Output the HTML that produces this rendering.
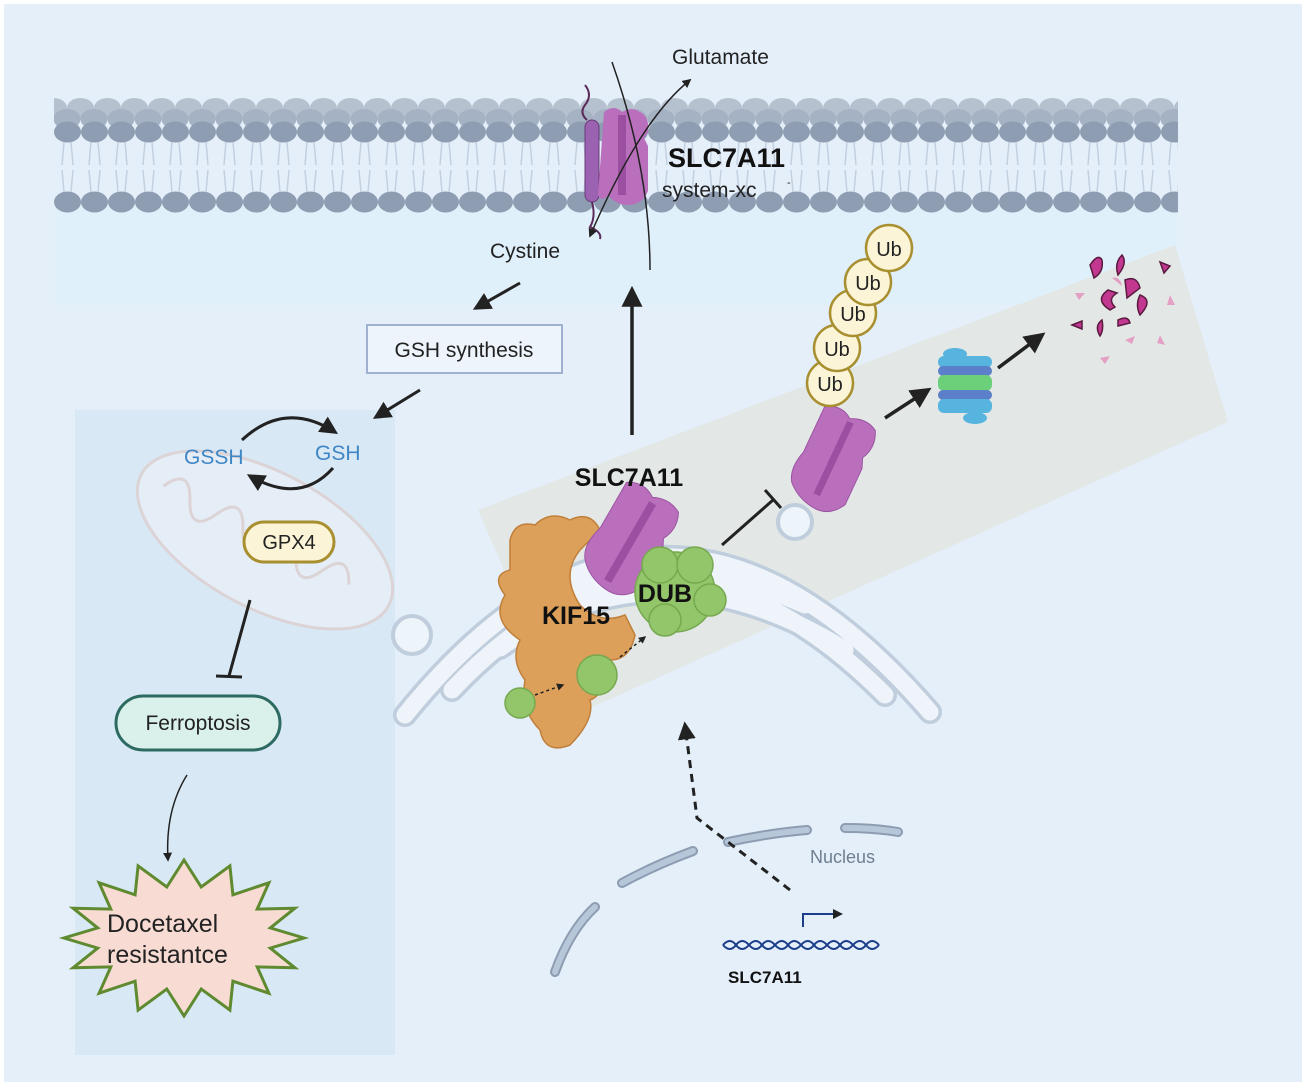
<!DOCTYPE html>
<html><head><meta charset="utf-8"><style>
html,body{margin:0;padding:0;background:#fff}
svg{display:block}
text{font-family:"Liberation Sans",sans-serif}
</style></head><body>
<svg width="1308" height="1088" viewBox="0 0 1308 1088" xmlns="http://www.w3.org/2000/svg">
<defs>
<marker id="ah" viewBox="0 0 10 10" refX="8" refY="5" markerWidth="6" markerHeight="6" orient="auto-start-reverse"><path d="M0,0 L10,5 L0,10 z" fill="#222"/></marker>
<marker id="ahs" viewBox="0 0 10 10" refX="8" refY="5" markerWidth="5" markerHeight="5" orient="auto"><path d="M0,0 L10,5 L0,10 z" fill="#222"/></marker>
<pattern id="heads" x="54" y="0" width="27" height="1088" patternUnits="userSpaceOnUse">
<ellipse cx="13.5" cy="132" rx="13.5" ry="10.5" fill="#8e9db2"/>
<ellipse cx="13.5" cy="202" rx="13.5" ry="10.5" fill="#8e9db2"/>
<path d="M10,142 L8,165 M17,142 L19,165 M10,192 L8,170 M17,192 L19,170" stroke="#c3d0e0" stroke-width="1.5" fill="none"/>
</pattern>
<pattern id="heads2" x="40" y="0" width="27" height="1088" patternUnits="userSpaceOnUse">
<ellipse cx="13.5" cy="108" rx="13.5" ry="10" fill="#b6c1cf"/>
<ellipse cx="0" cy="119" rx="13.5" ry="10" fill="#a5b2c3"/>
<ellipse cx="27" cy="119" rx="13.5" ry="10" fill="#a5b2c3"/>
</pattern>
</defs>
<rect width="1308" height="1088" fill="#fff"/>
<rect x="4" y="4" width="1298" height="1078" fill="#e4effa"/>
<rect x="55" y="205" width="1122" height="100" fill="#e0f0fb"/>
<rect x="75" y="410" width="320" height="645" fill="#d8e9f5"/>
<polygon points="478,510 1175,245 1228,422 568,718" fill="#e3e8e6"/>
<g fill="none" stroke-linecap="round">
<g stroke="#bfcddc" stroke-width="24">
<path d="M405,715 Q660,400 930,712"/>
<path d="M452,690 Q660,470 885,695"/>
<path d="M500,648 Q660,535 845,650"/>
<path d="M545,605 Q670,545 805,605"/>
</g>
<g stroke="#eef4fa" stroke-width="17">
<path d="M405,715 Q660,400 930,712"/>
<path d="M452,690 Q660,470 885,695"/>
<path d="M500,648 Q660,535 845,650"/>
<path d="M545,605 Q670,545 805,605"/>
</g>
<circle cx="412" cy="635" r="19" stroke="#bfcddc" stroke-width="4" fill="#edf4fa"/>
<circle cx="795" cy="522" r="17" stroke="#bfcddc" stroke-width="4" fill="#edf4fa"/>
</g>
<g transform="rotate(28 265 540)">
<ellipse cx="265" cy="540" rx="140" ry="68" fill="#e5eef6" stroke="#dcd3d6" stroke-width="3"/>
<path d="M150,540 q15,-30 30,0 q15,30 30,0 q15,-30 30,0 q15,30 30,0 q15,-30 30,0 q15,30 30,0 q15,-30 30,0" fill="none" stroke="#dcd3d6" stroke-width="3"/>
</g>
<rect x="54" y="98" width="1124" height="30" fill="url(#heads2)"/>
<rect x="54" y="100" width="1124" height="115" fill="url(#heads)"/>
<rect x="585" y="120" width="14" height="82" rx="7" fill="#9a62b0" stroke="#6a3a7a"/>
<path d="M604,112 q10,-8 18,0 q10,-6 18,0 q10,5 8,20 l-4,6 l4,8 v45 q-6,14 -20,14 q-12,0 -20,-10 q-6,8 -10,0 z" fill="#b96fbc"/>
<path d="M622,115 v80" stroke="#9a4fa0" stroke-width="8"/>
<path d="M585,85 q8,10 0,20 q-6,8 2,15 M592,202 q4,15 -2,25 q12,5 10,12" fill="none" stroke="#5a2a5a" stroke-width="2"/>
<path d="M612,62 Q650,170 650,270" fill="none" stroke="#222" stroke-width="1.5"/>
<path d="M590,236 Q640,120 690,80" fill="none" stroke="#222" stroke-width="1.5" marker-end="url(#ah)" marker-start="url(#ah)"/>
<text x="672" y="64" font-size="21" fill="#222">Glutamate</text>
<text x="668" y="167" font-size="27" font-weight="bold" fill="#111">SLC7A11</text>
<text x="662" y="197" font-size="21" fill="#222">system-xc</text>
<text x="787" y="186" font-size="11" fill="#222">-</text>
<text x="490" y="258" font-size="21" fill="#222">Cystine</text>
<line x1="520" y1="283" x2="476" y2="308" stroke="#222" stroke-width="3" marker-end="url(#ah)"/>
<rect x="367" y="325" width="195" height="48" fill="#eef4fb" stroke="#9fb0d0" stroke-width="2"/>
<text x="464" y="357" font-size="21" fill="#222" text-anchor="middle">GSH synthesis</text>
<line x1="420" y1="390" x2="376" y2="417" stroke="#222" stroke-width="3" marker-end="url(#ah)"/>
<line x1="632" y1="435" x2="632" y2="290" stroke="#222" stroke-width="3.5" marker-end="url(#ah)"/>
<text x="184" y="464" font-size="21" fill="#3f86c6">GSSH</text>
<text x="315" y="460" font-size="21" fill="#3f86c6">GSH</text>
<path d="M242,440 Q285,400 335,432" fill="none" stroke="#222" stroke-width="3" marker-end="url(#ah)"/>
<path d="M333,468 Q300,505 250,476" fill="none" stroke="#222" stroke-width="3" marker-end="url(#ah)"/>
<rect x="244" y="522" width="90" height="40" rx="20" fill="#fbf4d6" stroke="#a88f30" stroke-width="3"/>
<text x="289" y="549" font-size="20" fill="#222" text-anchor="middle">GPX4</text>
<line x1="250" y1="600" x2="229" y2="676" stroke="#222" stroke-width="3"/>
<line x1="216" y1="676" x2="242" y2="677" stroke="#222" stroke-width="3"/>
<rect x="116" y="696" width="164" height="54" rx="27" fill="#daf0ea" stroke="#2d6b62" stroke-width="3"/>
<text x="198" y="730" font-size="21" fill="#222" text-anchor="middle">Ferroptosis</text>
<path d="M187,775 Q165,810 168,860" fill="none" stroke="#222" stroke-width="1.5" marker-end="url(#ah)"/>
<polygon id="star" fill="#f8dcd4" stroke="#5f8a30" stroke-width="3" points=""/>
<text x="107" y="932" font-size="25" fill="#222">Docetaxel</text>
<text x="107" y="963" font-size="25" fill="#222">resistantce</text>
<path d="M510,540 q5,-20 25,-15 q15,-15 35,-5 q20,-10 30,10 l-20,20 q-20,25 0,55 q20,20 45,10 l10,20 q-5,25 -25,25 q-5,35 -20,40 q5,20 -20,45 q-25,10 -30,-15 q-20,-20 -15,-50 q-15,-20 -5,-40 q-30,-20 -15,-45 q-15,-20 5,-25 z" fill="#dca05a" stroke="#c07f3a" stroke-width="1.5"/>
<g transform="rotate(30 625 545)">
<path d="M595,490 q15,-10 30,0 q15,-8 30,0 q8,15 0,30 l5,10 v45 q-10,20 -30,18 q-20,-2 -32,-15 q-10,-12 -3,-35 z" fill="#b96fbc" stroke="#9b55a2"/>
<path d="M628,495 v90" stroke="#9a4fa0" stroke-width="8"/>
</g>
<g fill="#93c56a" stroke="#76a84f" stroke-width="1.5">
<circle cx="675" cy="592" r="40"/>
<circle cx="660" cy="565" r="18"/><circle cx="695" cy="565" r="18"/><circle cx="710" cy="600" r="16"/><circle cx="665" cy="620" r="16"/>
<circle cx="597" cy="675" r="20"/>
<circle cx="520" cy="703" r="15"/>
</g>
<text x="576" y="624" font-size="25" font-weight="bold" fill="#111" text-anchor="middle">KIF15</text>
<text x="665" y="602" font-size="25" font-weight="bold" fill="#111" text-anchor="middle">DUB</text>
<text x="629" y="486" font-size="25" font-weight="bold" fill="#111" text-anchor="middle">SLC7A11</text>
<line x1="535" y1="695" x2="563" y2="685" stroke="#222" stroke-width="1.5" stroke-dasharray="3,3" marker-end="url(#ahs)"/>
<line x1="620" y1="657" x2="645" y2="637" stroke="#222" stroke-width="1.5" stroke-dasharray="3,3" marker-end="url(#ahs)"/>
<line x1="722" y1="545" x2="773" y2="500" stroke="#222" stroke-width="3"/>
<line x1="765" y1="490" x2="781" y2="508" stroke="#222" stroke-width="3"/>
<g transform="rotate(25 833 455)">
<path d="M805,415 q15,-10 28,0 q15,-8 28,0 q8,15 0,30 l4,10 v40 q-10,18 -28,16 q-18,-2 -30,-14 q-8,-12 -2,-32 z" fill="#b96fbc" stroke="#9b55a2"/>
<path d="M835,418 v80" stroke="#9a4fa0" stroke-width="7"/>
</g>
<g fill="#fbf4d6" stroke="#a88f30" stroke-width="2.5">
<circle cx="830" cy="383" r="23"/><circle cx="837" cy="348" r="23"/><circle cx="853" cy="313" r="23"/><circle cx="868" cy="282" r="23"/><circle cx="889" cy="248" r="23"/>
</g>
<g font-size="20" fill="#222" text-anchor="middle">
<text x="830" y="391">Ub</text><text x="837" y="356">Ub</text><text x="853" y="321">Ub</text><text x="868" y="290">Ub</text><text x="889" y="256">Ub</text>
</g>
<line x1="885" y1="418" x2="928" y2="390" stroke="#222" stroke-width="3.5" marker-end="url(#ah)"/>
<line x1="998" y1="368" x2="1042" y2="335" stroke="#222" stroke-width="3.5" marker-end="url(#ah)"/>
<g>
<rect x="938" y="356" width="54" height="12" rx="6" fill="#56b4df"/>
<rect x="938" y="366" width="54" height="10" rx="5" fill="#5b7fc8"/>
<rect x="938" y="375" width="54" height="16" rx="6" fill="#6cd07a"/>
<rect x="938" y="390" width="54" height="10" rx="5" fill="#5b7fc8"/>
<rect x="938" y="399" width="54" height="14" rx="6" fill="#56b4df"/>
<ellipse cx="955" cy="354" rx="12" ry="6" fill="#56b4df"/><ellipse cx="975" cy="418" rx="12" ry="6" fill="#56b4df"/>
</g>
<g fill="#c2378f" stroke="#5a1a40" stroke-width="1.5">
<path d="M1090,265 q8,-12 12,-5 q2,12 -8,18 z"/><path d="M1122,255 q6,8 -4,20 q-4,-12 4,-20z"/>
<path d="M1160,262 l10,4 l-6,7z"/><path d="M1108,290 q-14,10 2,20 l5,-3 q-8,-8 2,-14z"/>
<path d="M1125,280 q12,-5 15,8 l-13,10z"/><path d="M1140,295 q14,5 0,20 q-5,-10 0,-20z"/>
<path d="M1118,320 q10,-5 12,3 l-12,3z"/><path d="M1072,325 l10,-4 l0,8z"/><path d="M1102,320 q2,10 -2,16 q-6,-10 2,-16z"/>
</g>
<g fill="#e4a0c4"><path d="M1075,293 l10,0 l-6,7z"/><path d="M1170,295 l5,10 l-8,0z"/><path d="M1125,340 l10,-4 l-3,8z"/><path d="M1160,335 l5,10 l-8,-2z"/><path d="M1100,358 l10,-2 l-5,8z"/><path d="M1112,278 q8,-2 10,8z"/></g>
<g fill="none" stroke-linecap="round">
<g stroke="#8d9cb1" stroke-width="10">
<path d="M555,972 Q570,930 595,907"/><path d="M622,883 Q655,865 693,851"/><path d="M728,842 Q770,833 807,830"/><path d="M845,828 Q875,828 898,832"/>
</g>
<g stroke="#b7c7da" stroke-width="6">
<path d="M555,972 Q570,930 595,907"/><path d="M622,883 Q655,865 693,851"/><path d="M728,842 Q770,833 807,830"/><path d="M845,828 Q875,828 898,832"/>
</g>
</g>
<text x="810" y="863" font-size="18" fill="#6f7f90">Nucleus</text>
<path d="M790,890 L697,818 L685,725" fill="none" stroke="#222" stroke-width="3" stroke-dasharray="8,6" marker-end="url(#ah)"/>
<path d="M803,927 v-13 h38" fill="none" stroke="#1c3d8a" stroke-width="2" marker-end="url(#ahs)"/>
<path d="M723,945 q7,-8 13,0 t13,0 t13,0 t13,0 t13,0 t13,0 t13,0 t13,0 t13,0 t13,0 t13,0 t13,0" fill="none" stroke="#1c3d8a" stroke-width="2"/>
<path d="M723,945 q7,8 13,0 t13,0 t13,0 t13,0 t13,0 t13,0 t13,0 t13,0 t13,0 t13,0 t13,0 t13,0" fill="none" stroke="#1c3d8a" stroke-width="2"/>
<text x="728" y="983" font-size="17" font-weight="bold" fill="#111">SLC7A11</text>
<script>
(function(){var cx=184,cy=938,n=16,p=[];for(var i=0;i<2*n;i++){var a=Math.PI*i/n-Math.PI/2;var o=i%2==0;var rx=o?120:88,ry=o?78:52;p.push((cx+rx*Math.cos(a)).toFixed(1)+','+(cy+ry*Math.sin(a)).toFixed(1));}document.getElementById('star').setAttribute('points',p.join(' '));})();
</script>
</svg>
</body></html>
